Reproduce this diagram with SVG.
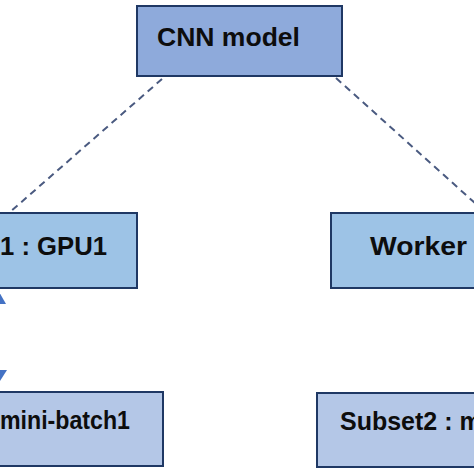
<svg xmlns="http://www.w3.org/2000/svg" width="474" height="474" viewBox="0 0 474 474">
<style>
.box{stroke:#1f3864;stroke-width:2}
.t{font-family:"Liberation Sans",Arial,sans-serif;font-weight:bold;font-size:25px;fill:#0d0d0d}
.dash{stroke:#4a5a80;stroke-width:2;stroke-dasharray:7,5;fill:none}
.arr{stroke:#4472c4;stroke-width:2}
.ah{fill:#4472c4}
</style>
<rect width="474" height="474" fill="#fff"/>
<g id="connectors">
<line class="dash" x1="162" y1="79" x2="10" y2="212"/>
<line class="dash" x1="336" y1="78" x2="476" y2="204"/>
<line class="arr" x1="-4" y1="380" x2="-4" y2="298"/>
<polygon class="ah" points="-2,290 6,304 -10,304"/>
<polygon class="ah" points="-10,370 7,370 -2,384"/>
</g>
<g id="cnn"><rect class="box" x="137" y="6" width="205" height="70" fill="#8eaadb"/><text class="t" x="157" y="46" textLength="143" lengthAdjust="spacingAndGlyphs">CNN model</text></g>
<g id="gpu1"><rect class="box" x="-10" y="213" width="147" height="75" fill="#9dc3e6"/><text class="t" x="0" y="255" textLength="107" lengthAdjust="spacingAndGlyphs">1 : GPU1</text></g>
<g id="worker"><rect class="box" x="331" y="213" width="160" height="75" fill="#9dc3e6"/><text class="t" x="370" y="255" textLength="97" lengthAdjust="spacingAndGlyphs">Worker</text></g>
<g id="minibatch"><rect class="box" x="-10" y="392" width="173" height="74" fill="#b4c7e7"/><text class="t" x="0" y="429" textLength="130" lengthAdjust="spacingAndGlyphs">mini-batch1</text></g>
<g id="subset2"><rect class="box" x="317" y="393" width="170" height="74" fill="#b4c7e7"/><text class="t" x="340" y="430">Subset2 : m</text></g>
</svg>
